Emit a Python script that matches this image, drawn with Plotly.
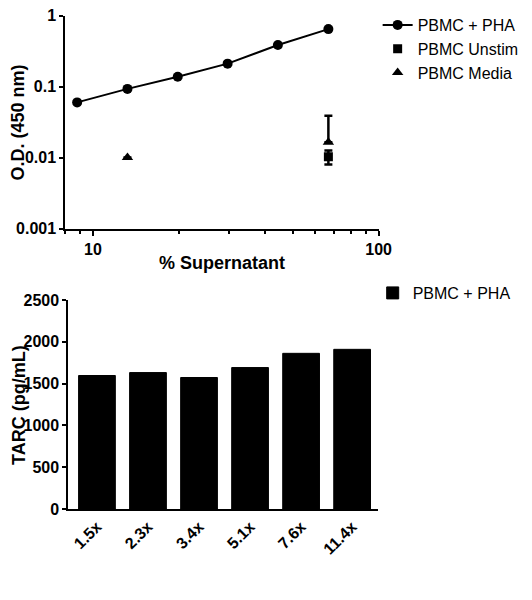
"""
Recreation of the PBMC supernatant O.D. / TARC figure.
Top: O.D. vs % supernatant (log-log). Bottom: TARC by dilution.
"""

import math
import plotly.graph_objs as go

# top panel: O.D. (450 nm) vs % supernatant
supernatant_pct = [8.8, 13.2, 19.8, 29.6, 44.4, 66.7]
od_pha = [0.060, 0.093, 0.138, 0.211, 0.386, 0.647]

unstim_x = [66.7]
od_unstim = [0.0103]
unstim_err = [0.0023]

media_x = [13.2, 66.7]
od_media = [0.0100, 0.0165]
media_err_plus = [0, 0.0225]
media_err_minus = [0, 0]

# bottom panel: TARC by dilution
dilutions = ["1.5x", "2.3x", "3.4x", "5.1x", "7.6x", "11.4x"]
tarc = [1597, 1632, 1573, 1692, 1862, 1910]

FONT = "Liberation Sans, Arial, sans-serif"

fig = go.Figure()

fig.add_trace(go.Scatter(
    x=supernatant_pct, y=od_pha,
    mode="lines+markers",
    line=dict(color="black", width=2),
    marker=dict(symbol="circle", size=10, color="black"),
    name="PBMC + PHA", xaxis="x", yaxis="y", legend="legend"
))
fig.add_trace(go.Scatter(
    x=unstim_x, y=od_unstim,
    mode="markers",
    marker=dict(symbol="square", size=9, color="black"),
    error_y=dict(type="data", array=unstim_err, color="black", thickness=2.5, width=4),
    name="PBMC Unstim", xaxis="x", yaxis="y", legend="legend"
))
fig.add_trace(go.Scatter(
    x=media_x, y=od_media,
    mode="markers",
    marker=dict(symbol="triangle-up", size=10, color="black"),
    error_y=dict(type="data", symmetric=False, array=media_err_plus,
                 arrayminus=media_err_minus, color="black", thickness=2.5, width=4),
    name="PBMC Media", xaxis="x", yaxis="y", legend="legend"
))

fig.add_trace(go.Bar(
    x=dilutions, y=tarc,
    marker=dict(color="black", line=dict(color="black", width=1)),
    name="PBMC + PHA", xaxis="x2", yaxis="y2", legend="legend2"
))

axis_common = dict(
    showline=True, linecolor="black", linewidth=2, mirror=False,
    showgrid=False, zeroline=False, automargin=False,
    ticks="outside", ticklen=4, tickwidth=2, tickcolor="black",
    ticklabeloverflow="allow",
    tickfont=dict(family=FONT, size=16, color="black", weight="bold"),
)
title_font = dict(family=FONT, size=18, color="black", weight="bold")
legend_font = dict(family=FONT, size=16, color="black")

top_dom = [0.6224, 0.9868]
bot_dom = [0.1421, 0.5]

# page body adds an 8px margin all round, so the figure is 516x584
fig.update_layout(
    width=516, height=584,
    margin=dict(l=0, r=0, t=0, b=0),
    paper_bgcolor="white", plot_bgcolor="white",
    font=dict(family=FONT, color="black"),
    bargap=0.28,
    xaxis=dict(
        axis_common, type="log", domain=[0.1124, 0.7267], anchor="y",
        range=[math.log10(8), 2], ticklen=5,
        tickvals=[10, 100], ticktext=["10", "100"],
        minor=dict(ticks="outside", ticklen=3, tickwidth=1.5, tickcolor="black",
                   tickvals=[8, 9, 20, 30, 40, 50, 60, 70, 80, 90]),
        title=dict(text="% Supernatant", font=title_font, standoff=0),
    ),
    yaxis=dict(
        axis_common, type="log", domain=top_dom, anchor="x",
        range=[-3, 0],
        tickvals=[0.001, 0.01, 0.1, 1], ticktext=["0.001", "0.01", "0.1", "1"],
    ),
    xaxis2=dict(
        axis_common, type="category", domain=[0.1182, 0.7248], anchor="y2",
        range=[-0.562, 5.5], ticks="", tickangle=-45,
    ),
    yaxis2=dict(
        axis_common, domain=bot_dom, anchor="x2",
        range=[0, 2500], dtick=500,
    ),
    legend=dict(
        x=0.7248, y=1.0, xanchor="left", yanchor="top",
        font=legend_font,
        bgcolor="rgba(0,0,0,0)", itemwidth=30, tracegroupgap=0,
    ),
    legend2=dict(
        x=0.7151, y=0.5411, xanchor="left", yanchor="top",
        font=legend_font,
        bgcolor="rgba(0,0,0,0)", itemwidth=30,
    ),
)

# y axis titles placed as annotations so they sit close to the page edge
for text, dom in [("O.D. (450 nm)", top_dom), ("TARC (pg/mL)", bot_dom)]:
    fig.add_annotation(
        text=text, textangle=-90, font=title_font, showarrow=False,
        xref="paper", yref="paper", x=0.0205, y=(dom[0] + dom[1]) / 2,
        xanchor="center", yanchor="middle",
    )

fig.write_html("out.html")
